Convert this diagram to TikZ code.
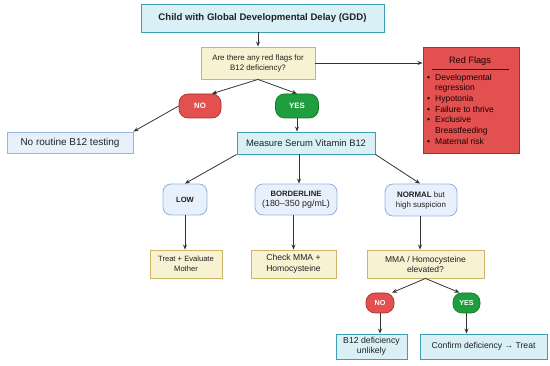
\documentclass[tikz,border=0pt]{standalone}
\usepackage{fontspec}
\setmainfont{Liberation Sans}
\usetikzlibrary{arrows.meta,calc}
\definecolor{cyanfill}{HTML}{D8F0F6}
\definecolor{cyanline}{HTML}{3E9FB0}
\definecolor{creamfill}{HTML}{F7F2D2}
\definecolor{creamline}{HTML}{CDB46A}
\definecolor{bluefill}{HTML}{E8F1FB}
\definecolor{blueline}{HTML}{93B6E2}
\definecolor{redfill}{HTML}{E25050}
\definecolor{redline}{HTML}{A83030}
\definecolor{greenfill}{HTML}{1E9E3C}
\definecolor{greenline}{HTML}{14782A}
\definecolor{arrowcol}{HTML}{333333}
\definecolor{txt}{HTML}{222222}
\tikzset{
  cyanbox/.style={draw=cyanline,fill=cyanfill,line width=0.9pt,inner sep=1pt,align=center,text=txt},
  creambox/.style={draw=creamline,fill=creamfill,line width=0.9pt,inner sep=1pt,align=center,text=txt},
  bluebox/.style={draw=blueline,fill=bluefill,line width=0.9pt,inner sep=1pt,align=center,text=txt},
  bluerounded/.style={bluebox,rounded corners=8pt},
  nopill/.style={draw=redline,fill=redfill,line width=0.7pt,rounded corners=9pt,inner sep=0pt,text=white,font=\bfseries\fontsize{7.8}{9}\selectfont},
  yespill/.style={draw=greenline,fill=greenfill,line width=0.7pt,rounded corners=9pt,inner sep=0pt,text=white,font=\bfseries\fontsize{7.8}{9}\selectfont},
  arr/.style={draw=arrowcol,line width=0.8pt,-{Stealth[length=5pt,width=4pt]}}
}
\begin{document}
\begin{tikzpicture}[x=1pt,y=-1pt]
\useasboundingbox (0,0) rectangle (550,366);
% top
\node[cyanbox,minimum width=243pt,minimum height=28pt,font=\bfseries\fontsize{9.6}{11}\selectfont] (title) at (262.5,18) {Child with Global Developmental Delay (GDD)};
\node[creambox,minimum width=114pt,minimum height=32pt,font=\fontsize{7.9}{10}\selectfont] (q) at (258,63) {Are there any red flags for\\B12 deficiency?};
% red flags
\node[draw=redline,fill=redfill,line width=0.9pt,minimum width=96pt,minimum height=106pt,inner sep=0pt] (rf) at (471,100) {};
\node[font=\fontsize{9.2}{11}\selectfont,text=black!90!red] (rft) at (470,61) {Red Flags};
\coordinate (ula) at (432,69);
\coordinate (ulb) at (509,69);
\draw[draw=black!80!red,line width=0.8pt] (ula) -- (ulb);
\node[anchor=north west,inner sep=0pt,font=\fontsize{8.5}{10.7}\selectfont,text=black!90!red] (rfl) at (427,72.5) {%
\begin{tabular}{@{}l@{\hspace{5pt}}l@{}}
\textbullet & Developmental\\
 & regression\\
\textbullet & Hypotonia\\
\textbullet & Failure to thrive\\
\textbullet & Exclusive\\
 & Breastfeeding\\
\textbullet & Maternal risk
\end{tabular}};
% decision
\node[nopill,minimum width=42pt,minimum height=24pt] (no1) at (200,106) {NO};
\node[yespill,minimum width=43pt,minimum height=24pt] (yes1) at (297,106) {YES};
\node[bluebox,minimum width=126pt,minimum height=21pt,font=\fontsize{10}{12}\selectfont] (nor) at (70,142.5) {No routine B12 testing};
\node[cyanbox,minimum width=138pt,minimum height=22pt,font=\fontsize{9.4}{11}\selectfont] (meas) at (306,143) {Measure Serum Vitamin B12};
% levels
\node[bluerounded,minimum width=44pt,minimum height=31pt,font=\bfseries\fontsize{7.6}{9}\selectfont] (low) at (185,199.5) {LOW};
\node[bluerounded,minimum width=82pt,minimum height=31pt,font=\fontsize{8.9}{10.5}\selectfont] (bord) at (296,199.5) {{\bfseries\fontsize{7.7}{10.5}\selectfont BORDERLINE}\\(180–350 pg/mL)};
\node[bluerounded,minimum width=72pt,minimum height=32pt,font=\fontsize{7.9}{10}\selectfont] (norm) at (421,200) {\textbf{NORMAL} but\\high suspicion};
% actions
\node[creambox,minimum width=72pt,minimum height=28pt,font=\fontsize{7.6}{9.5}\selectfont] (treat) at (186,264) {Treat + Evaluate\\Mother};
\node[creambox,minimum width=85pt,minimum height=28pt,font=\fontsize{8.6}{10.5}\selectfont] (check) at (293.5,264) {Check MMA +\\Homocysteine};
\node[creambox,minimum width=117pt,minimum height=28pt,font=\fontsize{8.5}{10}\selectfont] (mma) at (425.5,264) {MMA / Homocysteine\\elevated?};
\node[nopill,minimum width=28pt,minimum height=20pt,font=\bfseries\fontsize{7.2}{8}\selectfont] (no2) at (380,303) {NO};
\node[yespill,minimum width=27pt,minimum height=20pt,font=\bfseries\fontsize{7.2}{8}\selectfont] (yes2) at (466.5,303) {YES};
\node[cyanbox,minimum width=71pt,minimum height=25pt,font=\fontsize{8.7}{10}\selectfont] (unl) at (371.5,346.5) {B12 deficiency\\unlikely};
\node[cyanbox,minimum width=127pt,minimum height=25pt,font=\fontsize{8.6}{10}\selectfont] (conf) at (483.5,346.5) {Confirm deficiency → Treat};
% arrows
\draw[arr] (title.south -| q.north) -- (q.north);
\draw[arr] (q.east) -- (q.east -| rf.west);
\draw[arr] (q.south) -- ([xshift=12pt]no1.north);
\draw[arr] (q.south) -- (yes1.north);
\draw[arr] (no1.west) -- (nor.north east);
\draw[arr] (yes1.south) -- (yes1.south |- meas.north);
\draw[arr] (meas.south west) -- (low.north);
\draw[arr] ([xshift=-7pt]meas.south) -- ([xshift=-7pt]meas.south |- bord.north);
\draw[arr] (meas.south east) -- ([xshift=-1pt]norm.north);
\draw[arr] (low.south) -- (low.south |- treat.north);
\draw[arr] (bord.south -| check.north) -- (check.north);
\draw[arr] ([xshift=-1pt]norm.south) -- ([xshift=-1pt]norm.south |- mma.north);
\draw[arr] (mma.south) -- ([xshift=12pt]no2.north);
\draw[arr] (mma.south) -- ([xshift=-7pt]yes2.north);
\draw[arr] (no2.south) -- (no2.south |- unl.north);
\draw[arr] (yes2.south) -- (yes2.south |- conf.north);
\end{tikzpicture}
\end{document}
